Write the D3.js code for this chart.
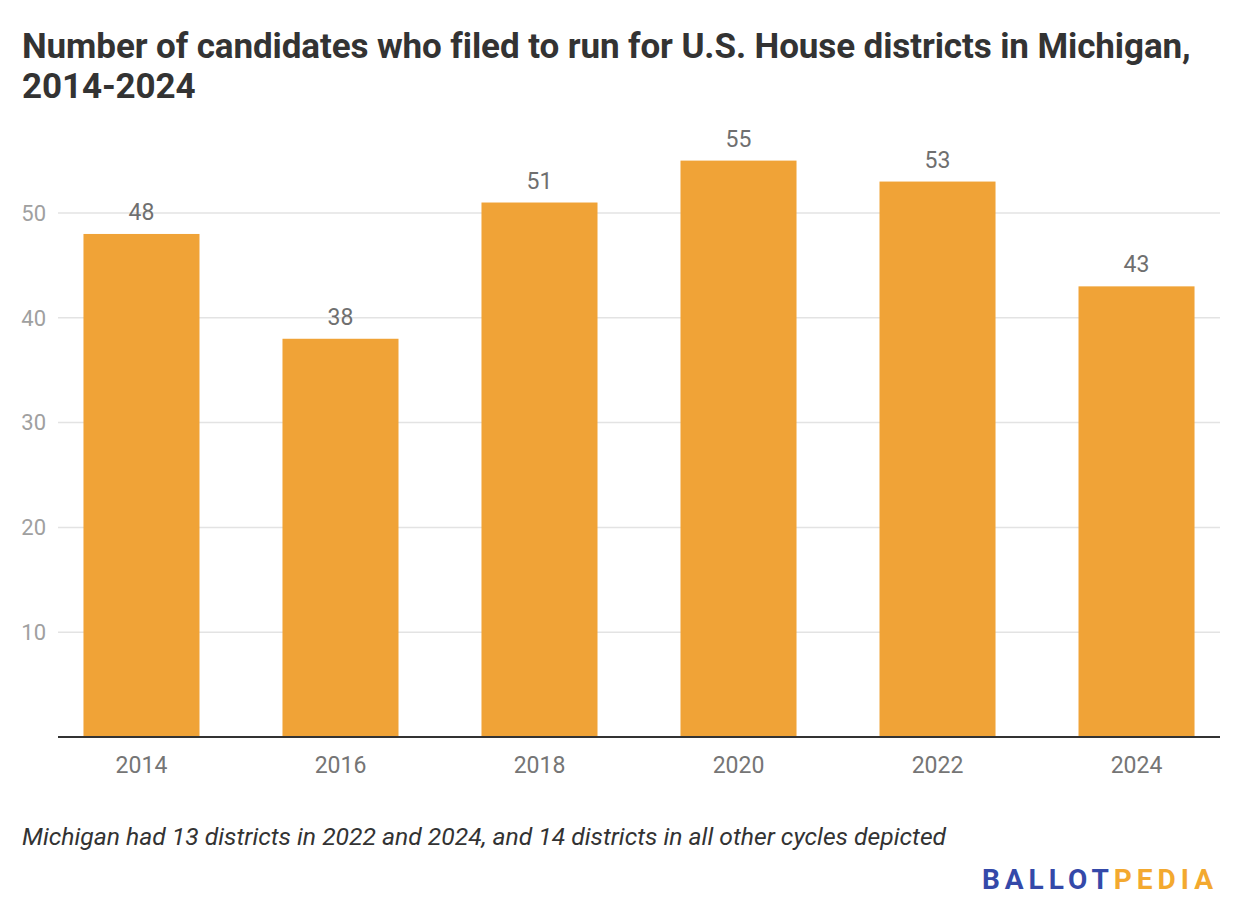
<!DOCTYPE html>
<html>
<head>
<meta charset="utf-8">
<script src="https://cdn.jsdelivr.net/npm/d3@7"></script>
<style>
  body { margin: 0; background: #fff; font-family: Roboto, "Noto Sans", sans-serif; }
</style>
</head>
<body>
<svg id="chart" width="1240" height="924"></svg>
<script>
// data
var years = ["2014", "2016", "2018", "2020", "2022", "2024"];
var candidates = [48, 38, 51, 55, 53, 43];
var yTicks = [10, 20, 30, 40, 50];

var margin = {top: 108, right: 20, bottom: 187, left: 58},
    width = 1240 - margin.left - margin.right,
    height = 924 - margin.top - margin.bottom;

var svg = d3.select("#chart");

// title
svg.append("text")
    .attr("x", 22).attr("y", 58)
    .style("font-size", "35px").style("font-weight", "bold")
    .style("fill", "#333").style("letter-spacing", "-0.1px")
    .text("Number of candidates who filed to run for U.S. House districts in Michigan,");
svg.append("text")
    .attr("x", 22).attr("y", 98)
    .style("font-size", "35px").style("font-weight", "bold")
    .style("fill", "#333").style("letter-spacing", "-0.1px")
    .text("2014-2024");

var g = svg.append("g")
    .attr("transform", "translate(" + margin.left + "," + margin.top + ")");

var x = d3.scaleBand()
    .domain(years)
    .range([0, width])
    .paddingInner(0.417)
    .paddingOuter(0.128);

var y = d3.scaleLinear()
    .domain([0, 60])
    .range([height, height - 6 * 104.8]);

// gridlines
g.selectAll(".grid")
    .data(yTicks)
    .enter().append("line")
    .attr("x1", 0).attr("x2", width)
    .attr("y1", function(d) { return y(d); })
    .attr("y2", function(d) { return y(d); })
    .attr("stroke", "#e3e3e3").attr("stroke-width", 1.5);

// y labels
g.selectAll(".ylab")
    .data(yTicks)
    .enter().append("text")
    .attr("x", -12)
    .attr("y", function(d) { return y(d); })
    .attr("dy", "0.35em")
    .attr("text-anchor", "end")
    .style("font-size", "22px").style("fill", "#a0a0a0")
    .text(function(d) { return d; });

// bars
g.selectAll("rect")
    .data(candidates)
    .enter().append("rect")
    .attr("x", function(d, i) { return x(years[i]); })
    .attr("y", function(d) { return y(d); })
    .attr("width", x.bandwidth())
    .attr("height", function(d) { return height - y(d); })
    .style("fill", "#f0a337");

// value labels
g.selectAll(".val")
    .data(candidates)
    .enter().append("text")
    .attr("x", function(d, i) { return x(years[i]) + x.bandwidth() / 2; })
    .attr("y", function(d) { return y(d) - 14; })
    .attr("text-anchor", "middle")
    .style("font-size", "23px").style("fill", "#6f6f6f")
    .text(function(d) { return d; });

// baseline
g.append("line")
    .attr("x1", 0).attr("x2", width)
    .attr("y1", height).attr("y2", height)
    .attr("stroke", "#333").attr("stroke-width", 2);

// x labels
g.selectAll(".xlab")
    .data(years)
    .enter().append("text")
    .attr("x", function(d) { return x(d) + x.bandwidth() / 2; })
    .attr("y", height + 36)
    .attr("text-anchor", "middle")
    .style("font-size", "23px").style("fill", "#757575")
    .text(function(d) { return d; });

// footnote
svg.append("text")
    .attr("x", 22).attr("y", 845)
    .style("font-size", "24.7px").style("font-style", "italic")
    .style("fill", "#333")
    .text("Michigan had 13 districts in 2022 and 2024, and 14 districts in all other cycles depicted");

// logo
var logo = svg.append("text")
    .attr("x", 1218).attr("y", 889)
    .attr("text-anchor", "end")
    .style("font-size", "28px").style("font-weight", "bold")
    .style("letter-spacing", "5px");
logo.append("tspan").style("fill", "#3449a9").text("BALLOT");
logo.append("tspan").style("fill", "#f3a92f").text("PEDIA");
</script>
</body>
</html>
